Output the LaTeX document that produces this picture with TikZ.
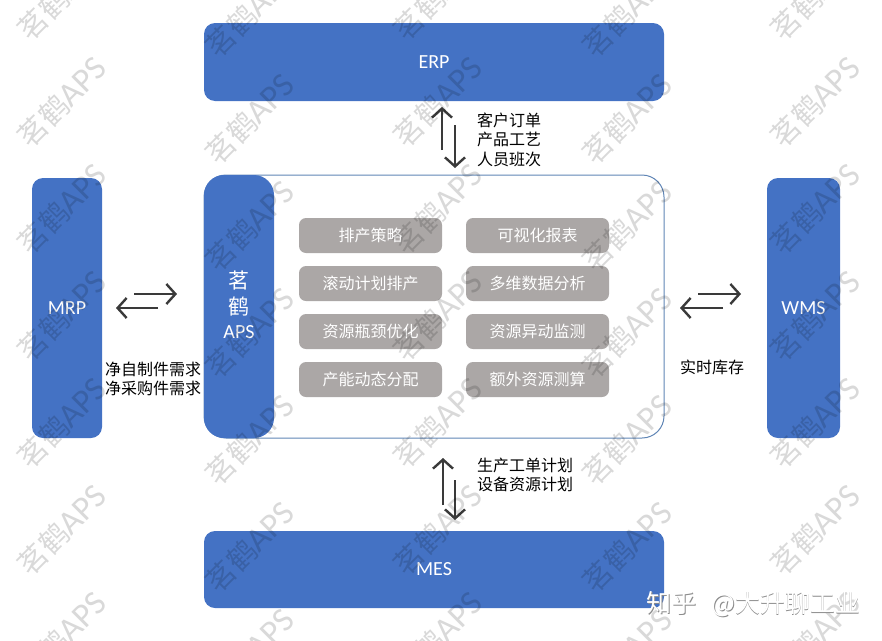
\documentclass[tikz,border=0pt]{standalone}
\usepackage{fontspec}
\setmainfont{Carlito}
\newfontfamily\cjk{Noto Sans CJK SC}
\usetikzlibrary{arrows.meta,positioning}
\definecolor{apsblue}{HTML}{4472C4}
\definecolor{itemgray}{HTML}{ABA7A6}
\definecolor{armgray}{HTML}{3A3A3A}
\definecolor{coreline}{HTML}{5F85B5}

\begin{document}
\begin{tikzpicture}[
		x=1pt, y=-1pt,
		line width=1pt,
		node distance=13pt,
		every node/.style={outer sep=0pt},
		sysbox/.style={fill=apsblue, text=white, font=\fontsize{20}{22}\selectfont, rounded corners=11pt, inner sep=0pt},
		itembox/.style={fill=itemgray, text=white, font=\cjk\fontsize{16}{18}\selectfont, rounded corners=7pt, minimum height=35pt, minimum width=143pt, inner sep=0pt},
		arrow/.style={armgray, line width=2.4pt, -{Straight Barb[length=9pt,width=20pt,line width=2.4pt]}},
		flowlabel/.style={anchor=west, align=left, inner sep=0pt, font=\cjk\fontsize{16}{19.5}\selectfont},
		stamp/.style={rotate=45, text=black, opacity=0.15, font=\cjk\fontsize{29}{31}\selectfont},
	]
		\clip (0,0) rectangle (882,640);

		\node (erp) [sysbox, minimum width=460pt, minimum height=78pt] at (434,62) {ERP};
		\node (mes) [sysbox, minimum width=460pt, minimum height=77pt] at (434,569.5) {MES};
		\node (mrp) [sysbox, minimum width=70pt, minimum height=260pt] at (67,308) {MRP};
		\node (wms) [sysbox, minimum width=73pt, minimum height=260pt] at (803.5,308) {WMS};
		\node (core) [draw=coreline, rounded corners=22pt, minimum width=460pt, minimum height=263pt, inner sep=0pt] at (434,306.5) {};
		\node (aps) [fill=apsblue, rounded corners=20pt, minimum width=70pt, minimum height=263pt, inner sep=0pt] at (239,306.5) {};
		\node (apsa) [text=white, inner sep=0pt, font=\cjk\fontsize{21}{23}\selectfont] at (239,281) {茗};
		\node (apsb) [text=white, inner sep=0pt, font=\cjk\fontsize{21}{23}\selectfont] at (239,306) {鹤};
		\node (apsc) [text=white, inner sep=0pt, font=\fontsize{20}{22}\selectfont] at (239,332) {APS};

		\node (plan) [itembox] at (370.5,235.5) {排产策略};
		\node (roll) [itembox, below=of plan] {滚动计划排产};
		\node (neck) [itembox, below=of roll] {资源瓶颈优化};
		\node (load) [itembox, below=of neck] {产能动态分配};
		\node (view) [itembox] at (537.5,235.5) {可视化报表};
		\node (data) [itembox, below=of view] {多维数据分析};
		\node (warn) [itembox, below=of data] {资源异动监测};
		\node (calc) [itembox, below=of warn] {额外资源测算};

		\node (toplabel) [flowlabel] at (477,139.5) {客户订单\\产品工艺\\人员班次};
		\node (botlabel) [flowlabel] at (477,475) {生产工单计划\\设备资源计划};
		\node (mrplabel) [flowlabel] at (105,379) {净自制件需求\\净采购件需求};
		\node (wmslabel) [flowlabel] at (680,367) {实时库存};

		\coordinate (topa) at (442,150);
		\coordinate (topb) at (442,107);
		\coordinate (topc) at (455,125);
		\coordinate (topd) at (455,168);
		\coordinate (bota) at (443,505);
		\coordinate (botb) at (443,458);
		\coordinate (botc) at (455,480);
		\coordinate (botd) at (455,520);
		\coordinate (mrpa) at (134,294);
		\coordinate (mrpb) at (177,294);
		\coordinate (mrpc) at (158,308);
		\coordinate (mrpd) at (116,308);
		\coordinate (wmsa) at (698,294);
		\coordinate (wmsb) at (741,294);
		\coordinate (wmsc) at (723,308);
		\coordinate (wmsd) at (680,308);

		\draw[arrow] (topa) -- (topb);
		\draw[arrow] (topc) -- (topd);
		\draw[arrow] (bota) -- (botb);
		\draw[arrow] (botc) -- (botd);
		\draw[arrow] (mrpa) -- (mrpb);
		\draw[arrow] (mrpc) -- (mrpd);
		\draw[arrow] (wmsa) -- (wmsb);
		\draw[arrow] (wmsc) -- (wmsd);

		% watermark grid, even columns sit lower
		\foreach \col/\drop in {62/0,250/17,438/0,627/17,815/0} {
			\foreach \row in {-5,102,209,316,423,530,637} {
				\node[stamp] at (\col,\row+\drop) {茗鹤{\fontspec{Carlito}\fontsize{34}{36}\selectfont APS}};
			}
		}

		\node (zhihushadow) [text=black!45, inner sep=0pt, anchor=east, font=\cjk\fontsize{25}{27}\selectfont] at (860.7,604.7) {知乎\hspace{9pt} @大升聊工业};
		\node (zhihu) [text=white, inner sep=0pt, anchor=east, font=\cjk\fontsize{25}{27}\selectfont] at (860,604) {知乎\hspace{9pt} @大升聊工业};
	\end{tikzpicture}
\end{document}
